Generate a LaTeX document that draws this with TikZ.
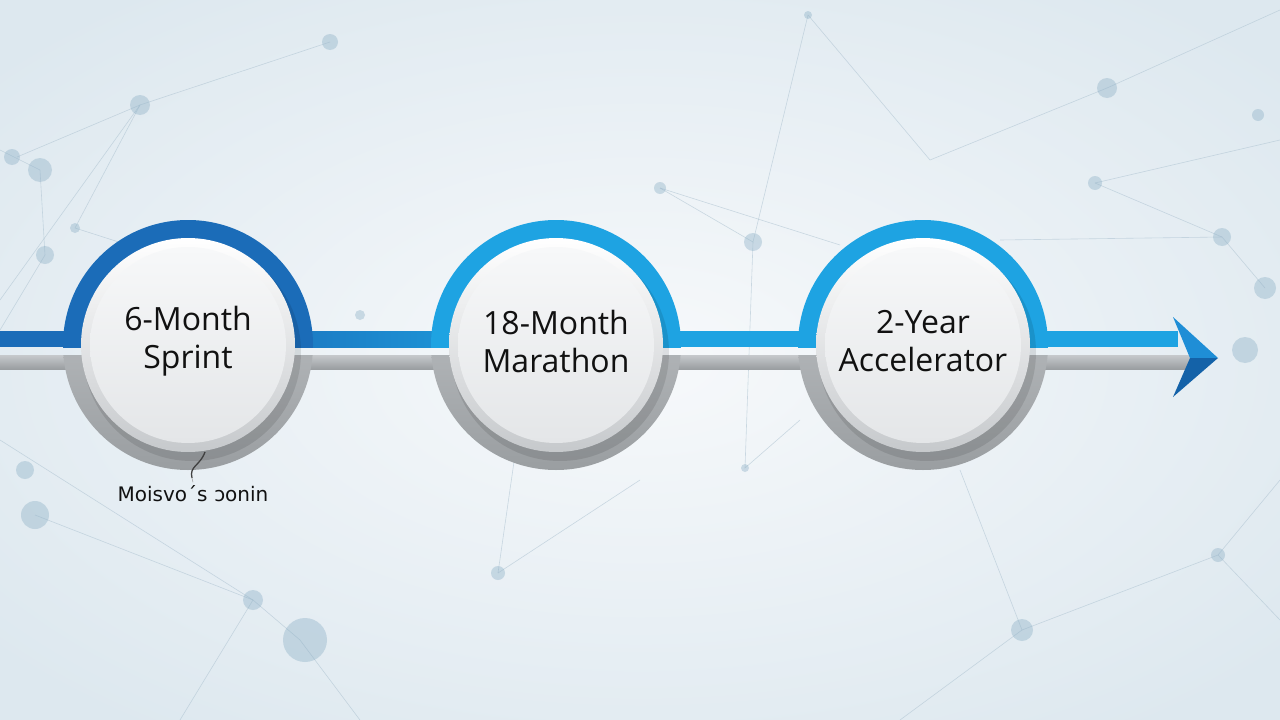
\documentclass[tikz,border=0pt]{standalone}
\usepackage{fontspec}
\setmainfont{Open Sans}
\newfontfamily\labfont{DejaVu Sans}
\usetikzlibrary{calc}
\definecolor{bgc}{HTML}{F7F9FB}
\definecolor{bge}{HTML}{DDE8EF}
\definecolor{netline}{HTML}{AFC4D2}
\definecolor{netdot}{HTML}{8DB0C6}
\definecolor{dblue}{HTML}{1B6CB8}
\definecolor{cblue}{HTML}{1EA3E2}
\definecolor{hdark}{HTML}{1462A8}
\definecolor{hlight}{HTML}{1F8ED6}
\definecolor{gtop}{HTML}{C6C9CC}
\definecolor{gbot}{HTML}{9A9EA1}
\definecolor{facet}{HTML}{F7F8F9}
\definecolor{faceb}{HTML}{E4E6E8}
\definecolor{txt}{HTML}{111111}
\tikzset{
  netln/.style={draw=netline, line width=0.6pt, opacity=0.6},
  netdt/.style={fill=netdot, opacity=0.4},
  steptext/.style={font=\fontsize{32}{38}\selectfont, text=txt, align=center},
  lab/.style={font=\labfont\fontsize{20}{22}\selectfont, text=txt}
}
\begin{document}
\begin{tikzpicture}[x=1pt,y=-1pt]
\useasboundingbox (0,0) rectangle (1280,720);
\shade[inner color=bgc, outer color=bge] (-200,-100) rectangle (1480,820);
% background network
\draw[netln] (0,300) -- (140,105) -- (330,42);
\draw[netln] (0,150) -- (40,170) -- (45,255) -- (0,330);
\draw[netln] (17,157) -- (140,105) -- (75,228);
\draw[netln] (75,228) -- (300,300);
\draw[netln] (808,15) -- (753,242) -- (660,188);
\draw[netln] (808,15) -- (930,160) -- (1107,88);
\draw[netln] (660,188) -- (840,245);
\draw[netln] (1107,88) -- (1280,10);
\draw[netln] (1095,183) -- (1280,140);
\draw[netln] (1095,183) -- (1222,237) -- (1265,288);
\draw[netln] (1000,240) -- (1222,237);
\draw[netln] (753,242) -- (745,468) -- (800,420);
\draw[netln] (498,573) -- (520,420);
\draw[netln] (498,573) -- (640,480);
\draw[netln] (0,440) -- (253,600) -- (300,640);
\draw[netln] (35,515) -- (253,600);
\draw[netln] (253,600) -- (180,720);
\draw[netln] (1022,630) -- (1218,555) -- (1280,480);
\draw[netln] (1022,630) -- (900,720);
\draw[netln] (1022,630) -- (960,470);
\draw[netln] (1218,555) -- (1280,620);
\draw[netln] (300,640) -- (360,720);
\fill[netdt] (140,105) circle (10);
\fill[netdt] (40,170) circle (12);
\fill[netdt] (12,157) circle (8);
\fill[netdt] (45,255) circle (9);
\fill[netdt] (75,228) circle (5);
\fill[netdt] (330,42) circle (8);
\fill[netdt] (808,15) circle (4);
\fill[netdt] (660,188) circle (6);
\fill[netdt] (753,242) circle (9);
\fill[netdt] (1107,88) circle (10);
\fill[netdt] (1095,183) circle (7);
\fill[netdt] (1222,237) circle (9);
\fill[netdt] (1265,288) circle (11);
\fill[netdt] (1245,350) circle (13);
\fill[netdt] (1258,115) circle (6);
\fill[netdt] (498,573) circle (7);
\fill[netdt] (253,600) circle (10);
\fill[netdt] (305,640) circle (22);
\fill[netdt] (1022,630) circle (11);
\fill[netdt] (1218,555) circle (7);
\fill[netdt] (35,515) circle (14);
\fill[netdt] (25,470) circle (9);
\fill[netdt] (745,468) circle (4);
\fill[netdt] (360,315) circle (5);
% coordinates
\coordinate (c1) at (188,345);
\coordinate (c2) at (556,345);
\coordinate (c3) at (923,345);
\coordinate (tip) at (1218,358);
% bands
\fill[dblue] (0,331) rectangle (200,347);
\shade[left color=dblue, right color=cblue] (200,331) rectangle (556,347);
\fill[cblue] (556,331) rectangle (1178,347);
\shade[top color=gtop, bottom color=gbot] (0,355) rectangle (1192,369);
% arrow head
\fill[hlight] (1173,317) -- (tip) -- (1190,358) -- cycle;
\fill[hdark] (1190,358) -- (tip) -- (1173,397) -- cycle;
% circles
\foreach \c/\rc in {c1/dblue, c2/cblue, c3/cblue}{
  \begin{scope}
    \clip ($(\c)+(-130,-130)$) rectangle ($(\c)+(130,2)$);
    \fill[\rc] (\c) circle (125);
  \end{scope}
  \begin{scope}
    \clip ($(\c)+(-130,10)$) rectangle ($(\c)+(130,130)$);
    \shade[top color=gtop, bottom color=gbot] (\c) circle (125);
  \end{scope}
  \fill[black, opacity=0.10] ($(\c)+(4,7)$) circle (109);
  \shade[top color=white, bottom color=gtop] (\c) circle (107);
  \shade[top color=facet, bottom color=faceb] (\c) circle (98);
}
\node[steptext] (n1) at ($(c1)+(0,-4)$) {6-Month\\Sprint};
\node[steptext] (n2) at ($(c2)+(0,-4)$) {18-Month\\Marathon};
\node[steptext] (n3) at ($(c3)+(0,-4)$) {2-Year\\Accelerator};
% label
\node[lab] (l1) at (193,494) {Moisvo´s\,\,ɔonin};
\coordinate (k1) at (205,452);
\coordinate (k2) at (192,478);
\draw[line width=1.3pt, draw=black!75] (k1) .. controls (200,466) and (189,466) .. (k2);
\draw[line width=0.5pt, draw=black!40] (k2) -- (l1.north);
\end{tikzpicture}
\end{document}
